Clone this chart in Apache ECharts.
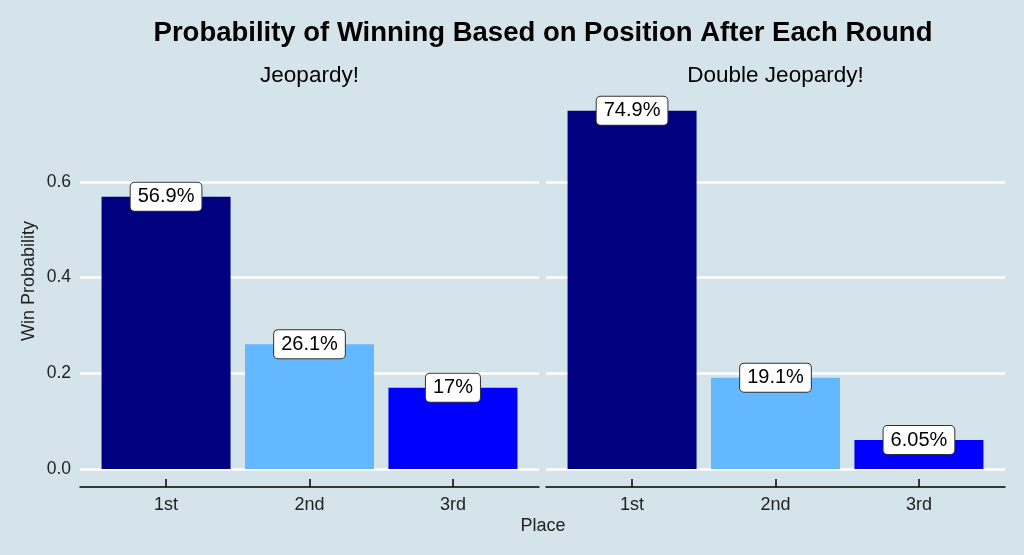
<!DOCTYPE html>
<html>
<head>
<meta charset="utf-8">
<script src="https://cdn.jsdelivr.net/npm/echarts@6/dist/echarts.min.js"></script>
<style>
	html, body { margin: 0; padding: 0; background: #d5e4eb; }
	#chart { width: 1024px; height: 555px; }
</style>
</head>
<body>
<div id="chart"></div>
<script>
// 数据
var places = ['1st', '2nd', '3rd'];
var rounds = ['Jeopardy!', 'Double Jeopardy!'];
var jeopardy = [0.569, 0.261, 0.17];
var doubleJeopardy = [0.749, 0.191, 0.0605];
var yTicks = [0, 0.2, 0.4, 0.6];
var barColors = ['#000080', '#63b8ff', '#0000ff'];

var font = 'Liberation Sans, Arial, sans-serif';

function pct(v){
	return Number((v * 100).toPrecision(3)) + '%';
}

function barSeries(values, idx){
	return {
		type : 'bar',
		xAxisIndex : idx,
		yAxisIndex : idx,
		barWidth : 129,
		data : values.map(function(v, i){
			return { value : [i + 1, v], itemStyle : { color : barColors[i] } };
		}),
		label : {
			show : true,
			position : 'top',
			distance : -14,
			formatter : function(p){ return pct(p.value[1]); },
			fontFamily : font,
			fontSize : 20,
			lineHeight : 22,
			color : '#000',
			backgroundColor : '#fff',
			borderColor : '#333',
			borderWidth : 1,
			borderRadius : 4,
			padding : [3, 7, 3, 7]
		}
	};
}

function xAxisFor(idx){
	return {
		type : 'value',
		gridIndex : idx,
		min : 0.4,
		max : 3.6,
		offset : 18,
		splitLine : { show : false },
		axisLine : { show : true, onZero : false, lineStyle : { color : '#000', width : 1.5 } },
		axisTick : { show : true, inside : true, length : 8, customValues : [1, 2, 3], lineStyle : { color : '#000', width : 1.5 } },
		axisLabel : {
			customValues : [1, 2, 3],
			formatter : function(v){ return places[Math.round(v) - 1]; },
			margin : 9,
			fontFamily : font,
			fontSize : 18,
			color : '#222'
		}
	};
}

function yAxisFor(idx){
	return {
		type : 'value',
		gridIndex : idx,
		min : 0,
		max : 0.786,
		interval : 0.2,
		axisLine : { show : false },
		axisTick : { show : false },
		splitLine : { show : true, showMaxLine : false, lineStyle : { color : '#fff', width : 2.5 } },
		axisLabel : {
			show : idx === 0,
			customValues : yTicks,
			formatter : function(v){ return v.toFixed(1); },
			margin : 9,
			fontFamily : font,
			fontSize : 17.5,
			color : '#222'
		},
		name : idx === 0 ? 'Win Probability' : '',
		nameLocation : 'middle',
		nameGap : 42,
		nameTextStyle : { fontFamily : font, fontSize : 18, color : '#222' }
	};
}

var chart = echarts.init(document.getElementById('chart'));
var option = {
	backgroundColor : '#d5e4eb',
	animation : false,
	grid : [
		{ left : 80, width : 459, top : 93, height : 376 },
		{ left : 546, width : 459, top : 93, height : 376 }
	],
	xAxis : [ xAxisFor(0), xAxisFor(1) ],
	yAxis : [ yAxisFor(0), yAxisFor(1) ],
	series : [ barSeries(jeopardy, 0), barSeries(doubleJeopardy, 1) ],
	graphic : [
		{ type : 'text', x : 543, y : 33, style : { text : 'Probability of Winning Based on Position After Each Round', font : 'bold 27.5px ' + font, fill : '#000', align : 'center', verticalAlign : 'middle' } },
		{ type : 'text', x : 309.5, y : 76, style : { text : rounds[0], font : '22.5px ' + font, fill : '#000', align : 'center', verticalAlign : 'middle' } },
		{ type : 'text', x : 775.5, y : 76, style : { text : rounds[1], font : '22.5px ' + font, fill : '#000', align : 'center', verticalAlign : 'middle' } },
		{ type : 'text', x : 543, y : 526, style : { text : 'Place', font : '18px ' + font, fill : '#222', align : 'center', verticalAlign : 'middle' } }
	]
};
chart.setOption(option);
</script>
</body>
</html>
